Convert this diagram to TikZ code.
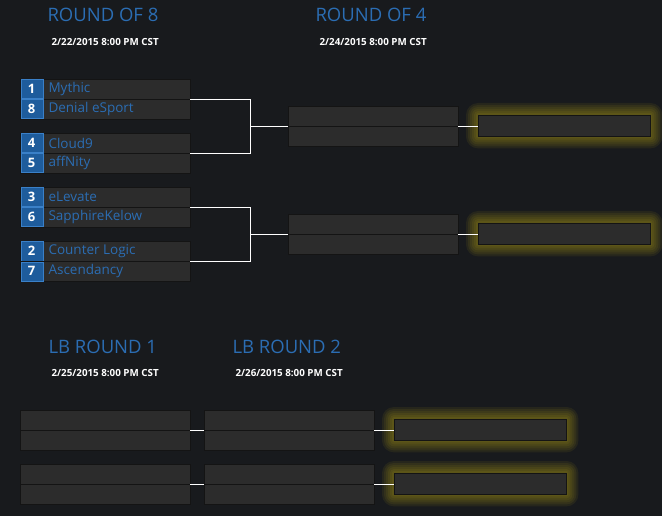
\documentclass[tikz,border=0pt]{standalone}
\usepackage{fontspec}
\setmainfont{Open Sans}
\usepackage{xcolor}
\usetikzlibrary{calc,positioning}
\definecolor{bgdark}{HTML}{181A1D}
\definecolor{slotgray}{HTML}{2C2C2C}
\definecolor{slotedge}{HTML}{141414}
\definecolor{seedblue}{HTML}{1E5C9C}
\definecolor{seededge}{HTML}{3A80C8}
\definecolor{teamblue}{HTML}{2B6DB3}
\definecolor{glowyellow}{HTML}{B8A818}
\tikzset{
  slot/.style={draw=slotedge, fill=slotgray, minimum width=170pt, minimum height=20pt,
    inner sep=0pt, anchor=north west},
  winner/.style={slot, minimum width=172pt, minimum height=21pt},
  seed/.style={draw=seededge, fill=seedblue, minimum width=22pt, minimum height=19pt,
    inner sep=0pt, anchor=north west, text=white, font=\fontsize{13}{14}\selectfont\bfseries},
  team/.style={text=teamblue, font=\fontsize{13.5}{15}\selectfont, anchor=west},
  roundtitle/.style={text=teamblue, font=\fontsize{18.5}{21}\selectfont, anchor=west},
  datelabel/.style={text=white, font=\fontsize{9.8}{11}\selectfont\bfseries, anchor=west},
  wire/.style={white, line width=0.8pt},
}
\newcommand{\glowslot}[1]{%
  \foreach \g in {12,10,...,2}
    \fill[glowyellow, opacity=0.09, rounded corners=\g pt]
      ($(#1.north west)+(-\g pt,\g pt)$) rectangle ($(#1.south east)+(\g pt,-\g pt)$);
}
\begin{document}
\begin{tikzpicture}[x=1pt,y=-1pt]
  \fill[bgdark] (0,0) rectangle (662,516);
  \useasboundingbox (0,0) rectangle (662,516);
  % ── Round titles ──
  \node[roundtitle] (r8) at (44,15) {ROUND OF 8};
  \node[roundtitle] (r4) at (312,15) {ROUND OF 4};
  \node[datelabel] (d8) at (48,42) {2/22/2015 8:00 PM CST};
  \node[datelabel] (d4) at (316,42) {2/24/2015 8:00 PM CST};
  \node[roundtitle] (lb1) at (45,347) {LB ROUND 1};
  \node[roundtitle] (lb2) at (229,347) {LB ROUND 2};
  \node[datelabel] (d25) at (48,373) {2/25/2015 8:00 PM CST};
  \node[datelabel] (d26) at (232,373) {2/26/2015 8:00 PM CST};
  % ── Round of 8 slots ──
  \foreach \n/\y/\s/\t in {a/79/1/Mythic, b/99/8/Denial eSport, c/133/4/Cloud9, d/153/5/affNity,
      e/187/3/eLevate, f/207/6/SapphireKelow, g/241/2/Counter Logic, h/261/7/Ascendancy} {
    \node[slot] (t\n) at (20,\y) {};
    \node[seed] (s\n) at (20.5,\y+0.5) {\s};
    \node[team] at (45,\y+10) {\t};
  }
  % ── Round of 4 slots ──
  \foreach \n/\y in {ua/106, ub/126, uc/214, ud/234} \node[slot] (\n) at (288,\y) {};
  \node[winner] (wa) at (478,115) {};
  \node[winner] (wb) at (478,223) {};
  \glowslot{wa}
  \glowslot{wb}
  \node[winner] at (478,115) {};
  \node[winner] at (478,223) {};
  % ── LB slots ──
  \foreach \n/\y in {la/410, lb/430, lc/464, ld/484} {
    \node[slot] (\n) at (20,\y) {};
    \node[slot] (m\n) at (204,\y) {};
  }
  \node[winner] (xa) at (394,419) {};
  \node[winner] (xb) at (394,473) {};
  \glowslot{xa}
  \glowslot{xb}
  \node[winner] at (394,419) {};
  \node[winner] at (394,473) {};
  % ── Connectors ──
  \draw[wire] (tb.north east) -- ++(60,0) |- (td.north east);
  \draw[wire] ($(tb.north east)+(60,27)$) -- (ub.north west);
  \draw[wire] (tf.north east) -- ++(60,0) |- (th.north east);
  \draw[wire] ($(tf.north east)+(60,27)$) -- (ud.north west);
  \draw[wire] (ub.north east) -- (ub.north east -| wa.west);
  \draw[wire] (ud.north east) -- (ud.north east -| wb.west);
  \draw[wire] (lb.north east) -- (mlb.north west);
  \draw[wire] (ld.north east) -- (mld.north west);
  \draw[wire] (mlb.north east) -- (mlb.north east -| xa.west);
  \draw[wire] (mld.north east) -- (mld.north east -| xb.west);
\end{tikzpicture}
\end{document}
